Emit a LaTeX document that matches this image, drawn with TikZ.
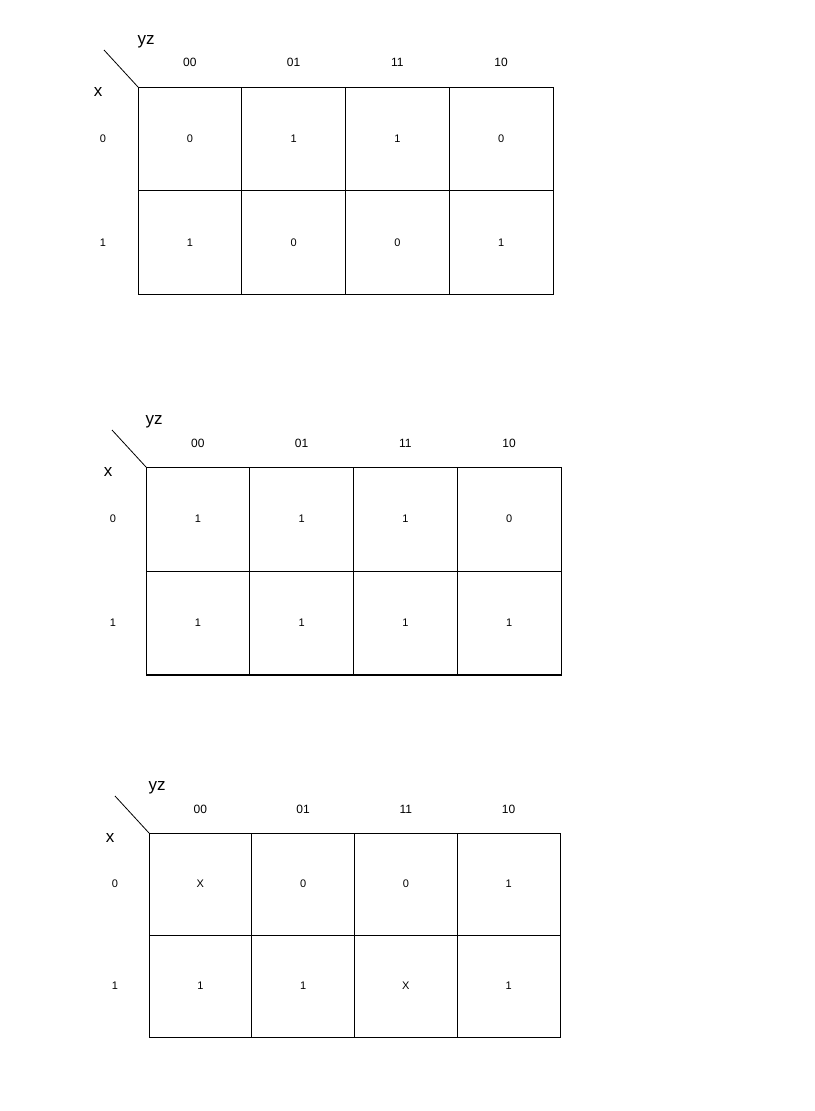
\documentclass[tikz,border=0pt]{standalone}
\usepackage{fontspec}
\setmainfont{Liberation Sans}
\begin{document}
\begin{tikzpicture}[x=1pt,y=-1pt,
  cellv/.style={font=\fontsize{11}{12}\selectfont},
  hdr/.style={font=\fontsize{12}{13}\selectfont},
  big/.style={font=\fontsize{17}{18}\selectfont}]
\useasboundingbox (0,0) rectangle (814,1111);
\newcommand\kmap[9]{%
 % #1 left x, #2 top y, #3 right x, #4 bottom y, #5 header y, #6 values row0, #7 values row1, #8 rowlabel x, #9 name
 \pgfmathsetmacro\cw{(#3-#1)/4}\pgfmathsetmacro\rh{(#4-#2)/2}
 \draw[line width=1pt] (#1,#2) rectangle (#3,#4);
 \foreach \i in {1,2,3}{\draw[line width=1pt] (#1+\i*\cw,#2) -- (#1+\i*\cw,#4);}
 \draw[line width=1pt] (#1,#2+\rh) -- (#3,#2+\rh);
 \foreach \h [count=\k from 0] in {00,01,11,10}{\node[hdr] (#9h\k) at (#1+\k*\cw+\cw/2,#5) {\h};}
 \foreach \v [count=\k from 0] in {#6}{\node[cellv] (#9a\k) at (#1+\k*\cw+\cw/2,#2+\rh/2) {\v};}
 \foreach \v [count=\k from 0] in {#7}{\node[cellv] (#9b\k) at (#1+\k*\cw+\cw/2,#2+1.5*\rh) {\v};}
 \node[cellv] (#9r0) at (#8,#2+\rh/2) {0};
 \node[cellv] (#9r1) at (#8,#2+1.5*\rh) {1};
 \coordinate (#9c) at (#1,#2);
 \coordinate (#9d) at (#1-34,#2-37);
 \draw[line width=0.8pt] (#9d) -- (#9c);
 \node[big] (#9yz) at (#1+8,#2-45) {yz};
 \node[big] (#9x) at (#8-5,#2+5) {x};
}
\kmap{138}{87}{553}{294}{62}{0,1,1,0}{1,0,0,1}{103}{A}
\kmap{146}{467}{561}{675}{443}{1,1,1,0}{1,1,1,1}{113}{B}
\draw[line width=1.8pt] (146,675) -- (561,675);
\kmap{149}{833}{560}{1037}{809}{X,0,0,1}{1,1,X,1}{115}{C}
\end{tikzpicture}
\end{document}
